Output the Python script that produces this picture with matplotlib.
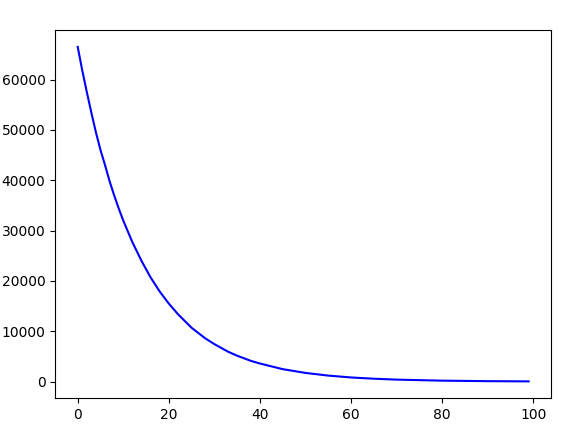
import matplotlib
matplotlib.use("Agg")
import matplotlib.pyplot as plt

# values
x_vals = [0, 1, 2, 3, 4, 5, 6, 7, 8, 9, 10, 12, 14, 16, 18, 20, 22, 25, 28, 30, 33, 35,
          38, 40, 45, 50, 55, 60, 65, 70, 80, 90, 99]
y_vals = [66500, 61800, 57500, 53400, 49500, 46000, 43000, 39800, 37000, 34400, 32000,
          27700, 24000, 20700, 17900, 15500, 13400, 10700, 8600, 7450, 5950, 5150,
          4130, 3600, 2480, 1730, 1200, 830, 580, 400, 195, 95, 50]


def main() -> None:
    fig = plt.figure(figsize=(5.87, 4.37), dpi=100)
    ax = fig.add_axes([0.094, 0.089, 0.845, 0.842])
    ax.plot(x_vals, y_vals, color="blue")
    fig.savefig("out.png")
    plt.close(fig)


if __name__ == "__main__":
    main()
